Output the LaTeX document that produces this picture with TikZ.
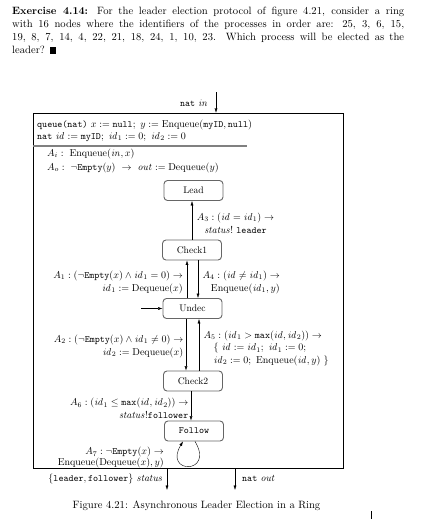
\documentclass[tikz,border=0pt]{standalone}
\usepackage{amsmath}
\usepackage{amssymb}
\usetikzlibrary{arrows.meta, positioning}
\newcommand{\Enq}{\mathrm{Enqueue}}
\newcommand{\Deq}{\mathrm{Dequeue}}
\newcommand{\Emp}{\texttt{Empty}}
\newcommand{\idv}{\mathit{id}}
\newcommand{\dgfont}{\fontsize{9.6}{13}\selectfont}
\newcommand{\txfont}{\fontsize{10.6}{13.1}\selectfont}

\begin{document}
\begin{tikzpicture}[
    x=1pt, y=-1pt,
    loc/.style={draw=gray!80!black, line width=0.9pt, rounded corners=3.5pt,
        minimum width=59pt, minimum height=20pt, inner sep=1pt, font=\dgfont},
    lbl/.style={inner sep=0pt, font=\dgfont},
    arr/.style={-{Latex[length=4.5pt, width=3pt]}},
]
    \useasboundingbox (0,0) rectangle (430,519);

    % Exercise text
    \node[inner sep=0pt, anchor=north west, text width=392pt, align=justify, font=\txfont] (ex) at (12,7)
        {\textbf{Exercise 4.14:} For the leader election protocol of figure 4.21, consider a ring\linebreak
        with 16 nodes where the identifiers of the processes in order are: 25, 3, 6, 15,\linebreak
        19, 8, 7, 14, 4, 22, 21, 18, 24, 1, 10, 23. Which process will be elected as the\linebreak
        leader? \rule{6.5pt}{6.5pt}};

    % Process box
    \node[draw, minimum width=310pt, minimum height=355pt, inner sep=0pt] (proc) at (188,290.5) {};
    \draw[gray, line width=1.4pt] (proc.west |- 0,146) -- (247,146);

    % Input channel
    \coordinate (inlet) at (216,92);
    \draw[arr] (inlet) -- (inlet |- proc.north);
    \node[lbl, anchor=base east] (inlbl) at (208,106) {\texttt{nat} $\mathit{in}$};

    % Declarations and actions
    \node[lbl, anchor=base west] (decl1) at (37,127)
        {\texttt{queue(nat)} $x := \texttt{null};\ y := \Enq(\texttt{myID},\texttt{null})$};
    \node[lbl, anchor=base west] (decl2) at (37,139)
        {\texttt{nat} $\idv := \texttt{myID};\ \idv_1 := 0;\ \idv_2 := 0$};
    \node[lbl, anchor=base west] (actin) at (47,156)
        {$A_i :\ \Enq(\mathit{in}, x)$};
    \node[lbl, anchor=base west] (actout) at (47,170)
        {$A_o :\ \neg\Emp(y) \ \rightarrow\ \mathit{out} := \Deq(y)$};

    % Locations
    \node[loc] (lead) at (193.5,190.5) {Lead};
    \node[loc] (check1) at (192,250) {Check1};
    \node[loc] (undec) at (192.5,308.5) {Undec};
    \node[loc] (check2) at (193,381) {Check2};
    \node[loc] (follow) at (194,431) {\texttt{Follow}};

    % Transitions
    \draw[arr] (check1.north) -- (check1.north |- lead.south);
    \draw[arr] ([xshift=-5.5pt]undec.north) -- ([xshift=-5.5pt]undec.north |- check1.south);
    \draw[arr] ([xshift=6pt]check1.south) -- ([xshift=6pt]check1.south |- undec.north);
    \coordinate (start) at (141,308.5);
    \draw[arr] (start) -- (undec.west);
    \draw[arr] ([xshift=-6.5pt]undec.south) -- ([xshift=-6.5pt]undec.south |- check2.north);
    \draw[arr] ([xshift=6pt]check2.north) -- ([xshift=6pt]check2.north |- undec.south);
    \draw[arr] ([xshift=-2pt]check2.south) -- ([xshift=-2pt]check2.south |- follow.north);
    \draw[arr] ([xshift=1pt]follow.south) .. controls +(20,33) and +(-20,33) .. ([xshift=-11pt]follow.south);

    % Transition labels
    \node[lbl, anchor=base, align=center] (a3) at (235.5,233)
        {$A_3 : (\idv = \idv_1) \rightarrow$\\ $\mathit{status}!$\ \texttt{leader}};
    \node[lbl, anchor=base east, align=right] (a1) at (183,291)
        {$A_1 : (\neg\Emp(x) \wedge \idv_1 = 0) \rightarrow$\\ $\idv_1 := \Deq(x)$};
    \node[lbl, anchor=base west, align=right] (a4) at (202.5,291)
        {$A_4 : (\idv \neq \idv_1) \rightarrow$\\ $\Enq(\idv_1, y)$};
    \node[lbl, anchor=base east, align=right] (a2) at (183.5,355)
        {$A_2 : (\neg\Emp(x) \wedge \idv_1 \neq 0) \rightarrow$\\ $\idv_2 := \Deq(x)$};
    \node[lbl, anchor=base west, align=left] (a5) at (203.5,363)
        {$A_5 : (\idv_1 > \texttt{max}(\idv, \idv_2)) \rightarrow$\\[-0.5pt]
        \hspace*{10pt}$\{\ \idv := \idv_1;\ \idv_1 := 0;$\\[-0.5pt]
        \hspace*{10pt}$\idv_2 := 0;\ \Enq(\idv, y)\ \}$};
    \node[lbl, anchor=base east, align=right] (a6) at (188.5,418.5)
        {$A_6 : (\idv_1 \leq \texttt{max}(\idv, \idv_2)) \rightarrow$\\ $\mathit{status}!\texttt{follower}$};
    \node[lbl, anchor=base east, align=right, font=\fontsize{9.6}{10.5}\selectfont] (a7) at (164,465)
        {$A_7 : \neg\Emp(x) \rightarrow$\\ $\Enq(\Deq(x), y)$};

    % Output channels
    \coordinate (statout) at (167,490);
    \coordinate (natout) at (235,490);
    \draw[arr] (statout |- proc.south) -- (statout);
    \draw[arr] (natout |- proc.south) -- (natout);
    \node[lbl, anchor=base east] (statlbl) at (163,481) {$\{\texttt{leader}, \texttt{follower}\}$ $\mathit{status}$};
    \node[lbl, anchor=base west] (outlbl) at (242,481) {\texttt{nat} $\mathit{out}$};

    % Caption
    \node[inner sep=0pt, anchor=base, font=\txfont] (cap) at (196.5,508)
        {Figure 4.21: Asynchronous Leader Election in a Ring};
    \draw (371,511) -- (371,519);
\end{tikzpicture}
\end{document}
